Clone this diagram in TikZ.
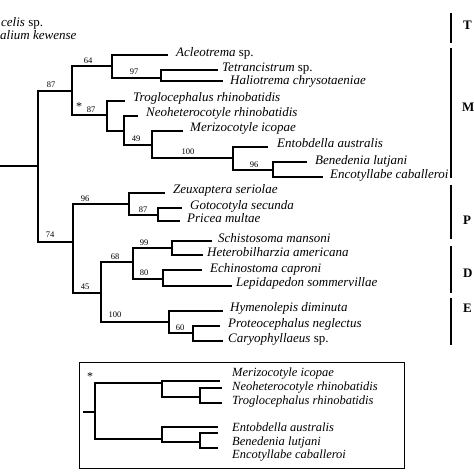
\documentclass[tikz,border=0pt]{standalone}
\usepackage{fontspec}
\setmainfont{Liberation Serif}
\begin{document}
\begin{tikzpicture}[x=1pt,y=-1pt,
  br/.style={line width=1.8pt, line join=miter},
  leaf/.style={anchor=base west, inner sep=0pt, font=\fontsize{13}{13}\selectfont\itshape},
  ileaf/.style={anchor=base west, inner sep=0pt, font=\fontsize{12.5}{12.5}\selectfont\itshape},
  lbl/.style={inner sep=0pt, font=\fontsize{8.5}{8.5}\selectfont},
  starlbl/.style={inner sep=0pt, font=\fontsize{12}{12}\selectfont},
  grp/.style={anchor=west, inner sep=0pt, font=\fontsize{13}{13}\selectfont\bfseries},
  bar/.style={line width=1.8pt}]
\useasboundingbox (0,0) rectangle (474,474);
% ---------- coordinates of the main tree ----------
\coordinate (r0) at (0,166);
\coordinate (r) at (38,166);
\coordinate (A) at (72,91);
\coordinate (B) at (112,66);
\coordinate (D97) at (161,78);
\coordinate (lAcl) at (168,55);
\coordinate (lTet) at (218,70);
\coordinate (lHal) at (223,81);
\coordinate (C) at (107,115);
\coordinate (lTro) at (125,101);
\coordinate (E) at (124,131);
\coordinate (lNeo) at (138,116);
\coordinate (F) at (152,145);
\coordinate (lMer) at (183,131);
\coordinate (G) at (233,158);
\coordinate (lEnt) at (268,147);
\coordinate (H) at (273,170);
\coordinate (lBen) at (307,162);
\coordinate (lEnc) at (323,177);
\coordinate (K) at (73,242);
\coordinate (P) at (129,204);
\coordinate (lZeu) at (165,193);
\coordinate (Q) at (158,215);
\coordinate (lGot) at (182,208);
\coordinate (lPri) at (180,221);
\coordinate (L) at (101,293);
\coordinate (M) at (133,262);
\coordinate (N) at (172,248);
\coordinate (lSch) at (212,241);
\coordinate (lHet) at (203,255);
\coordinate (O) at (163,279);
\coordinate (lEch) at (202,270);
\coordinate (lLep) at (232,286);
\coordinate (S) at (169,322);
\coordinate (lHym) at (223,311);
\coordinate (T) at (193,333);
\coordinate (lPro) at (220,326);
\coordinate (lCar) at (223,341);
% ---------- branches ----------
\draw[br] (r0) -- (r);
\draw[br] (r) |- (A);
\draw[br] (r) |- (K);
\draw[br] (A) |- (B);
\draw[br] (A) |- (C);
\draw[br] (B) |- (lAcl);
\draw[br] (B) |- (D97);
\draw[br] (D97) |- (lTet);
\draw[br] (D97) |- (lHal);
\draw[br] (C) |- (lTro);
\draw[br] (C) |- (E);
\draw[br] (E) |- (lNeo);
\draw[br] (E) |- (F);
\draw[br] (F) |- (lMer);
\draw[br] (F) |- (G);
\draw[br] (G) |- (lEnt);
\draw[br] (G) |- (H);
\draw[br] (H) |- (lBen);
\draw[br] (H) |- (lEnc);
\draw[br] (K) |- (P);
\draw[br] (K) |- (L);
\draw[br] (P) |- (lZeu);
\draw[br] (P) |- (Q);
\draw[br] (Q) |- (lGot);
\draw[br] (Q) |- (lPri);
\draw[br] (L) |- (M);
\draw[br] (L) |- (S);
\draw[br] (M) |- (N);
\draw[br] (M) |- (O);
\draw[br] (N) |- (lSch);
\draw[br] (N) |- (lHet);
\draw[br] (O) |- (lEch);
\draw[br] (O) |- (lLep);
\draw[br] (S) |- (lHym);
\draw[br] (S) |- (T);
\draw[br] (T) |- (lPro);
\draw[br] (T) |- (lCar);
% ---------- taxon names ----------
\node[leaf] (tCel) at (1,26) {celis \upshape sp.};
\node[leaf] (tBip) at (0,39) {alium kewense};
\node[leaf] (tAcl) at (176,56) {Acleotrema \upshape sp.};
\node[leaf] (tTet) at (222,71) {Tetrancistrum \upshape sp.};
\node[leaf] (tHal) at (230,84) {Haliotrema chrysotaeniae};
\node[leaf] (tTro) at (133,101) {Troglocephalus rhinobatidis};
\node[leaf] (tNeo) at (146,116) {Neoheterocotyle rhinobatidis};
\node[leaf] (tMer) at (190,131) {Merizocotyle icopae};
\node[leaf] (tEnt) at (277,147) {Entobdella australis};
\node[leaf] (tBen) at (315,164) {Benedenia lutjani};
\node[leaf] (tEnc) at (330,178) {Encotyllabe caballeroi};
\node[leaf] (tZeu) at (173,193) {Zeuxaptera seriolae};
\node[leaf] (tGot) at (190,209) {Gotocotyla secunda};
\node[leaf] (tPri) at (187,222) {Pricea multae};
\node[leaf] (tSch) at (218,242) {Schistosoma mansoni};
\node[leaf] (tHet) at (207,256) {Heterobilharzia americana};
\node[leaf] (tEch) at (210,272) {Echinostoma caproni};
\node[leaf] (tLep) at (236,286) {Lepidapedon sommervillae};
\node[leaf] (tHym) at (230,311) {Hymenolepis diminuta};
\node[leaf] (tPro) at (228,327) {Proteocephalus neglectus};
\node[leaf] (tCar) at (228,342) {Caryophyllaeus \upshape sp.};
% ---------- support values ----------
\node[lbl] (s64) at (88,61) {64};
\node[lbl] (s97) at (134,72) {97};
\node[lbl] (s87a) at (51,85) {87};
\node[starlbl] (star) at (79,107) {*};
\node[lbl] (s87b) at (91,110) {87};
\node[lbl] (s49) at (136,139) {49};
\node[lbl] (s100a) at (188,152) {100};
\node[lbl] (s96a) at (254,165) {96};
\node[lbl] (s96b) at (85,199) {96};
\node[lbl] (s87c) at (143,210) {87};
\node[lbl] (s74) at (50,235) {74};
\node[lbl] (s99) at (144,243) {99};
\node[lbl] (s68) at (115,257) {68};
\node[lbl] (s80) at (144,273) {80};
\node[lbl] (s45) at (85,287) {45};
\node[lbl] (s100b) at (115,315) {100};
\node[lbl] (s60) at (180,328) {60};
% ---------- group bars ----------
\draw[bar] (451,13) -- (451,43);
\draw[bar] (451,48) -- (451,178);
\draw[bar] (451,185) -- (451,239);
\draw[bar] (451,246) -- (451,293);
\draw[bar] (451,298) -- (451,345);
\node[grp] (gT) at (463,25) {T};
\node[grp] (gM) at (462,107) {M};
\node[grp] (gP) at (463,220) {P};
\node[grp] (gD) at (463,273) {D};
\node[grp] (gE) at (463,308) {E};
% ---------- inset ----------
\draw[line width=0.8pt] (79,362) rectangle (404,468);
\coordinate (ir0) at (83,412);
\coordinate (ir) at (95,412);
\coordinate (iA) at (162,383);
\coordinate (iB) at (200,397);
\coordinate (iC) at (162,439);
\coordinate (iD) at (200,442);
\coordinate (iMer) at (220,381);
\coordinate (iNeo) at (222,388);
\coordinate (iTro) at (222,403);
\coordinate (iEnt) at (218,427);
\coordinate (iBen) at (218,433);
\coordinate (iEnc) at (218,448);
\draw[br] (ir0) -- (ir);
\draw[br] (ir) |- (iA);
\draw[br] (ir) |- (iC);
\draw[br] (iA) |- (iMer);
\draw[br] (iA) |- (iB);
\draw[br] (iB) |- (iNeo);
\draw[br] (iB) |- (iTro);
\draw[br] (iC) |- (iEnt);
\draw[br] (iC) |- (iD);
\draw[br] (iD) |- (iBen);
\draw[br] (iD) |- (iEnc);
\node[starlbl] (istar) at (90,377) {*};
\node[ileaf] (jMer) at (232,376) {Merizocotyle icopae};
\node[ileaf] (jNeo) at (232,390) {Neoheterocotyle rhinobatidis};
\node[ileaf] (jTro) at (232,404) {Troglocephalus rhinobatidis};
\node[ileaf] (jEnt) at (232,431) {Entobdella australis};
\node[ileaf] (jBen) at (232,445) {Benedenia lutjani};
\node[ileaf] (jEnc) at (232,458) {Encotyllabe caballeroi};
\end{tikzpicture}
\end{document}
